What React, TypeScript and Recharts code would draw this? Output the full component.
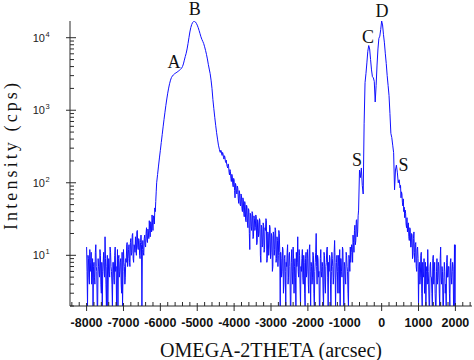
import React from "react";
import { LineChart, Line, XAxis, YAxis, ReferenceDot } from "recharts";

const BLUE = "#1010ff";
const AXIS = "#2a2a2a";

// counts (cps) read off the scan. Noisy stretches are sampled every 12.5 arcsec,
// the smooth peaks every 25 arcsec. 2 = nothing counted (sits on the axis floor)
const BG_LEFT = [
  13, 6, 2, 10, 9, 5, 4, 12, 6, 8, 11, 4, 5, 9, 2, 7, 8, 5, 4, 11, 14, 7, 6, 2,
  2, 9, 7, 6, 5, 12, 10, 4, 3, 8, 2, 6, 8, 11, 6, 5, 18, 9, 4, 2, 7, 10, 2, 5,
  9, 6, 5, 13, 11, 7, 6, 4, 2, 8, 8, 5, 4, 10, 13, 6, 7, 2, 5, 12, 2, 9, 10, 5,
  6, 8, 9, 4, 3, 11, 2, 6, 12, 8, 7, 4, 5, 9, 8, 14, 15, 7,
]; // from -8000
const BG_RISE = [
  9, 12, 14, 8, 7, 15, 17, 10, 11, 19, 20, 9, 8, 14, 13, 11, 18, 12, 10, 21, 22,
  13, 12, 17, 16, 10, 9, 15, 19, 14,
]; // from -6875
const FOOT = [
  2, 12, 16, 11, 10, 17, 19, 14, 13, 20, 24, 16, 15, 23, 21, 17, 30, 22, 18, 29,
  27, 21, 36, 28, 22, 35, 33, 27, 45, 40, 55, 75,
]; // from -6500
const PEAK_AB = [
  100, 130, 170, 220, 280, 360, 460, 590, 750, 940, 1170, 1430, 1720, 2020,
  2320, 2600, 2820, 2960, 3060, 3150, 3220, 3280, 3350, 3420, 3500, 3580, 3680,
  3800, 4000, 4350, 4900, 5500, 6100, 7000, 8300, 10000, 12000, 13800, 15200,
  16200, 16700, 16800, 16500, 15800, 14900, 13800, 12600, 11400, 10300, 9500,
  8900, 8300, 7500, 6700, 5900, 5100, 4300, 3700, 3200, 2600, 2000, 1400, 1050,
  800, 620, 490, 400, 330,
]; // from -6100, step 25
const TAIL = [
  290, 270, 262, 281, 275, 248, 238, 262, 250, 221, 212, 236, 226, 198, 190,
  205, 178, 168, 160, 182, 170, 140, 128, 152, 142, 115, 104, 131, 124, 96, 88,
  115, 110, 78, 62, 98, 92, 74, 70, 90, 84, 60, 52, 78, 72, 50, 48, 70, 66, 44,
  40, 62, 58, 38, 34, 55, 50, 30, 29, 49, 46, 27, 24, 44, 42, 20, 12, 38, 36,
  25, 22, 40, 38, 17, 18, 35, 32, 22, 24, 36, 34, 14, 15, 31, 28, 18, 20, 32,
  30, 10, 8, 26, 24, 13, 14, 28, 26, 11, 12, 24, 22, 32, 30, 8, 9, 21, 20, 10,
  13, 26, 24, 9, 11, 20, 18, 6, 7, 21, 19, 10, 12, 24, 22, 8, 9, 18, 16, 7, 10,
  22, 20, 11,
]; // from -4400
const BG_MID = [
  2, 11, 9, 5, 6, 13, 12, 3, 4, 9, 10, 6, 2, 8, 7, 11, 14, 4, 5, 10, 11, 7, 2,
  2, 8, 12, 6, 4, 13, 9, 3, 7, 9, 5, 2, 11, 7, 8, 18, 6, 5, 12, 10, 4, 2, 7, 6,
  9, 12, 5, 4, 10, 8, 3, 2, 9, 11, 5, 6, 12, 9, 4, 3, 12, 14, 6, 2, 8, 7, 4, 5,
  11, 10, 3, 2, 6, 8, 11, 20, 7, 4, 10, 9, 5, 6, 2, 2, 9, 12, 6, 5, 8, 7, 3, 2,
  11, 10, 4, 3, 7, 8, 12, 13, 5, 2, 8, 6, 10, 9, 4, 2, 6, 11, 9, 7, 4, 5, 11,
  16, 8, 2, 5, 8, 10, 6, 3, 10, 7, 3, 12, 2, 9, 9, 6, 5, 13, 12, 4, 2, 8, 7, 5,
  4, 11, 10, 7, 6, 3, 2, 10, 9, 6, 13, 8, 11, 14,
]; // from -2750
const PRE_S = [12, 8, 19, 15, 11, 22, 26, 14, 16, 30, 31, 18, 21, 35]; // from -800
const PEAK_CD = [
  42, 150, 118, 160, 92, 70, 650, 2400, 3200, 4500, 6500, 7800, 7000, 5000,
  3600, 2900, 2800, 2500, 1300, 2200, 4200, 7000, 9800, 10500, 13000, 17000,
  15000, 11000, 8500, 6000, 4400, 3000, 2200, 1600, 900, 480, 420, 330, 260, 80,
  150, 175, 140, 100, 110,
]; // from -625, step 25
const POST_S = [
  85, 92, 62, 75, 70, 54, 48, 60, 40, 46, 33, 42, 38, 27, 24, 33, 21, 26, 28,
  18, 16, 24, 23, 13, 13, 20, 19, 9, 10, 17, 21, 11, 8, 14, 15, 7, 6, 12, 13, 9,
]; // from 500
const BG_RIGHT = [
  2, 7, 8, 4, 5, 10, 11, 3, 2, 8, 6, 5, 9, 3, 3, 8, 2, 6, 7, 4, 12, 6, 4, 2, 2,
  7, 8, 5, 5, 3, 2, 9, 10, 4, 6, 8, 3, 2, 2, 6, 9, 4, 5, 8, 7, 3, 2, 9, 13, 5,
  4, 7, 6, 2, 2, 5, 8, 6, 3, 4, 2, 8, 10, 5, 5, 7, 7, 3, 2, 8, 9, 5, 4, 6, 8, 7,
  2, 2, 14, 2, 14,
]; // from 1000

const SEGMENTS: [number, number, number[]][] = [
  [-8000, 12.5, BG_LEFT],
  [-6875, 12.5, BG_RISE],
  [-6500, 12.5, FOOT],
  [-6100, 25, PEAK_AB],
  [-4400, 12.5, TAIL],
  [-2750, 12.5, BG_MID],
  [-800, 12.5, PRE_S],
  [-625, 25, PEAK_CD],
  [500, 12.5, POST_S],
  [1000, 12.5, BG_RIGHT],
];

const data = SEGMENTS.flatMap(([start, step, vals]) =>
  vals.map((v, i) => ({ x: start + i * step, y: v }))
);

const X_TICKS = [
  -8400, -8200, -8000, -7800, -7600, -7400, -7200, -7000, -6800, -6600, -6400,
  -6200, -6000, -5800, -5600, -5400, -5200, -5000, -4800, -4600, -4400, -4200,
  -4000, -3800, -3600, -3400, -3200, -3000, -2800, -2600, -2400, -2200, -2000,
  -1800, -1600, -1400, -1200, -1000, -800, -600, -400, -200, 0, 200, 400, 600,
  800, 1000, 1200, 1400, 1600, 1800, 2000, 2200, 2400,
];
const Y_TICKS = [
  2, 3, 4, 5, 6, 7, 8, 9, 10, 20, 30, 40, 50, 60, 70, 80, 90, 100, 200, 300,
  400, 500, 600, 700, 800, 900, 1000, 2000, 3000, 4000, 5000, 6000, 7000, 8000,
  9000, 10000,
];

const PEAK_NAMES = ["A", "B", "C", "D", "S", "S"];
const PEAK_X = [-5629, -5068, -371, 8, -669, 596];
const PEAK_Y = [4600, 24800, 10100, 23500, 207, 177];

function XTick({ x, y, payload }: any) {
  const v = payload.value;
  const major = v % 1000 === 0 && v >= -8000 && v <= 2000;
  if (!major) {
    return <line x1={x} x2={x} y1={y - 4} y2={y} stroke={AXIS} />;
  }
  return (
    <g>
      <line x1={x} x2={x} y1={y - 3} y2={y + 5} stroke={AXIS} />
      <text
        x={x}
        y={y + 21}
        textAnchor="middle"
        fontSize={12.5}
        fontWeight="bold"
        fontFamily="'Liberation Sans', Arial, sans-serif"
        fill="#111"
      >
        {v}
      </text>
    </g>
  );
}

function YTick({ x, y, payload }: any) {
  const v = payload.value;
  const lg = Math.log10(v);
  const exp = Math.round(lg);
  if (Math.abs(lg - exp) > 1e-9) {
    return <line x1={x} x2={x + 4} y1={y} y2={y} stroke={AXIS} />;
  }
  return (
    <g fontFamily="'Liberation Sans', Arial, sans-serif" fill="#222">
      <line x1={x - 4} x2={x + 6} y1={y} y2={y} stroke={AXIS} />
      <text x={x - 25} y={y + 4} textAnchor="end" fontSize={11}>
        10
      </text>
      <text x={x - 24.5} y={y - 1} fontSize={7.5}>
        {exp}
      </text>
    </g>
  );
}

const peakLabel = (name: string) => (p: any) =>
  (
    <text
      x={p.cx}
      y={p.cy}
      textAnchor="middle"
      dominantBaseline="central"
      fontSize={18}
      fontFamily="'Liberation Serif', 'Times New Roman', serif"
      fill="#111"
    >
      {name}
    </text>
  );

export default function App() {
  return (
    <div
      style={{
        position: "absolute",
        left: 0,
        top: 0,
        width: 474,
        height: 360,
        background: "#fff",
      }}
    >
      <LineChart
        width={474}
        height={360}
        data={data}
        margin={{ top: 21, right: 2, bottom: 24, left: 30 }}
      >
        <XAxis
          dataKey="x"
          type="number"
          domain={[-8450, 2450]}
          allowDataOverflow
          ticks={X_TICKS}
          interval={0}
          height={30}
          tickSize={0}
          tickMargin={0}
          tickLine={false}
          axisLine={{ stroke: AXIS }}
          tick={<XTick />}
        />
        <YAxis
          dataKey="y"
          scale="log"
          domain={[2, 17000]}
          allowDataOverflow
          ticks={Y_TICKS}
          interval={0}
          width={40}
          tickSize={0}
          tickMargin={0}
          tickLine={false}
          axisLine={{ stroke: AXIS }}
          tick={<YTick />}
        />
        <Line
          dataKey="y"
          type="linear"
          stroke={BLUE}
          strokeWidth={1}
          dot={false}
          isAnimationActive={false}
        />
        {PEAK_NAMES.map((n, i) => (
          <ReferenceDot
            key={i}
            x={PEAK_X[i]}
            y={PEAK_Y[i]}
            r={1}
            ifOverflow="visible"
            shape={peakLabel(n)}
          />
        ))}
      </LineChart>
      <svg
        width={474}
        height={360}
        style={{ position: "absolute", left: 0, top: 0, pointerEvents: "none" }}
        fontFamily="'Liberation Serif', 'Times New Roman', serif"
      >
        <text
          x={271}
          y={357}
          textAnchor="middle"
          fontSize={20}
          textLength={222}
          lengthAdjust="spacingAndGlyphs"
          fill="#111"
        >
          OMEGA-2THETA (arcsec)
        </text>
        <text
          transform="translate(17,156.5) rotate(-90)"
          textAnchor="middle"
          fontSize={18}
          textLength={147}
          lengthAdjust="spacing"
          fill="#111"
        >
          Intensity (cps)
        </text>
      </svg>
    </div>
  );
}
